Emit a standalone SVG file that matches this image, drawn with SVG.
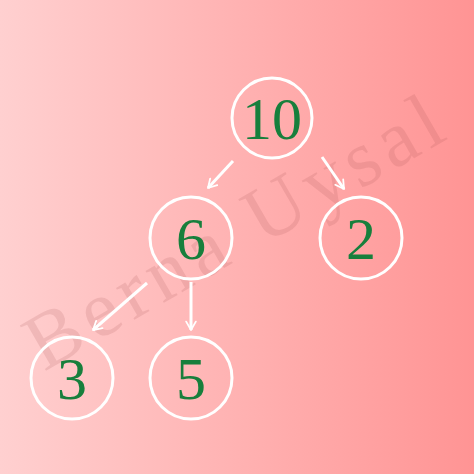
<svg xmlns="http://www.w3.org/2000/svg" width="474" height="474" viewBox="0 0 474 474">
<defs>
<linearGradient id="bg" x1="0" y1="0" x2="1" y2="0">
<stop offset="0" stop-color="#ffd0d0"/>
<stop offset="1" stop-color="#ff9494"/>
</linearGradient>
<marker id="ah" viewBox="0 0 10 10" refX="8" refY="5" markerWidth="4" markerHeight="4" orient="auto" markerUnits="strokeWidth">
<path d="M1,1 L8,5 L1,9" fill="none" stroke="#ffffff" stroke-width="1.5" stroke-linecap="round" stroke-linejoin="round"/>
</marker>
<style>
.n{fill:none;stroke:#ffffff;stroke-width:3}
.t{font-family:"Liberation Serif","DejaVu Serif",serif;font-size:60px;fill:#177f3c;text-anchor:middle}
.e{stroke:#ffffff;stroke-width:3;fill:none;marker-end:url(#ah)}
</style>
</defs>
<rect width="474" height="474" fill="url(#bg)"/>
<text x="0" y="0" transform="translate(44,372) rotate(-30)" font-family="Liberation Serif, serif" font-size="80" fill="#9a4a4a" fill-opacity="0.15" letter-spacing="7">Berna Uysal</text>
<g id="edges">
<line class="e" x1="233" y1="161" x2="208" y2="188"/>
<line class="e" x1="322" y1="157" x2="344" y2="189"/>
<line class="e" x1="147" y1="283" x2="93" y2="330"/>
<line class="e" x1="191" y1="282" x2="191" y2="330"/>
</g>
<g id="n10"><circle class="n" cx="272" cy="118" r="40"/><text class="t" x="272" y="139">10</text></g>
<g id="n6"><circle class="n" cx="191" cy="238" r="41"/><text class="t" x="191" y="259">6</text></g>
<g id="n2"><circle class="n" cx="361" cy="238" r="41"/><text class="t" x="361" y="259">2</text></g>
<g id="n3"><circle class="n" cx="72" cy="378" r="41"/><text class="t" x="72" y="399">3</text></g>
<g id="n5"><circle class="n" cx="191" cy="378" r="41"/><text class="t" x="191" y="399">5</text></g>
</svg>
